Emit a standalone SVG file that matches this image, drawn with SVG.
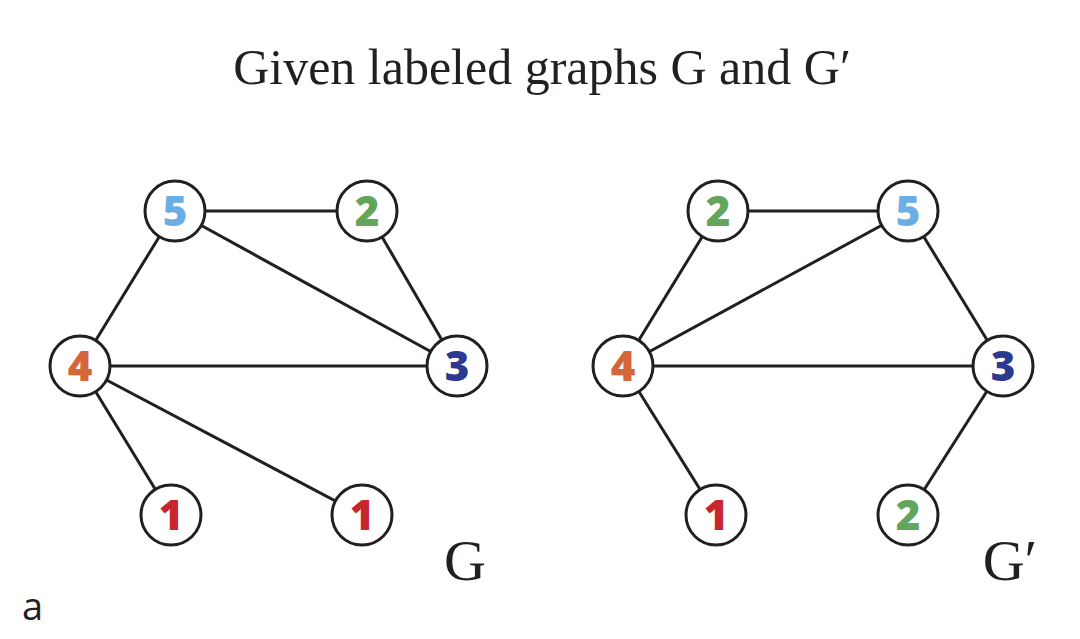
<svg xmlns="http://www.w3.org/2000/svg" width="1080" height="639" viewBox="0 0 1080 639">
<style>
.n circle{fill:#fff;stroke:#231f20;stroke-width:3}
.n text{font-family:"Open Sans","Liberation Sans",sans-serif;font-weight:800;font-size:42px;text-anchor:middle}
.e line{stroke:#231f20;stroke-width:3}
.c5{fill:#6aaee6}.c2{fill:#62a55b}.c4{fill:#d4663a}.c3{fill:#2b3990}.c1{fill:#c8262e}
.t{font-family:"Liberation Serif",serif;fill:#231f20}
</style>
<rect width="1080" height="639" fill="#fff"/>
<text class="t" x="542" y="84" font-size="50" text-anchor="middle">Given labeled graphs G and G′</text>
<g class="e" id="connectors">
<line x1="175" y1="211" x2="367" y2="211"/><line x1="175" y1="211" x2="457" y2="366"/><line x1="367" y1="211" x2="457" y2="366"/>
<line x1="175" y1="211" x2="80" y2="366"/><line x1="80" y1="366" x2="457" y2="366"/><line x1="80" y1="366" x2="171" y2="515"/><line x1="80" y1="366" x2="362" y2="515"/>
<line x1="718" y1="211" x2="908" y2="211"/><line x1="718" y1="211" x2="623" y2="366"/><line x1="908" y1="211" x2="623" y2="366"/>
<line x1="908" y1="211" x2="1003" y2="366"/><line x1="623" y1="366" x2="1003" y2="366"/><line x1="623" y1="366" x2="716" y2="515"/><line x1="1003" y1="366" x2="908" y2="515"/>
</g>
<g class="n" id="g5"><circle cx="175" cy="211" r="30"/><text class="c5" x="175" y="226">5</text></g>
<g class="n" id="g2"><circle cx="367" cy="211" r="30"/><text class="c2" x="367" y="226">2</text></g>
<g class="n" id="g4"><circle cx="80" cy="366" r="30"/><text class="c4" x="80" y="381">4</text></g>
<g class="n" id="g3"><circle cx="457" cy="366" r="30"/><text class="c3" x="457" y="381">3</text></g>
<g class="n" id="g1a"><circle cx="171" cy="515" r="30"/><text class="c1" x="171" y="530">1</text></g>
<g class="n" id="g1b"><circle cx="362" cy="515" r="30"/><text class="c1" x="362" y="530">1</text></g>
<g class="n" id="h2"><circle cx="718" cy="211" r="30"/><text class="c2" x="718" y="226">2</text></g>
<g class="n" id="h5"><circle cx="908" cy="211" r="30"/><text class="c5" x="908" y="226">5</text></g>
<g class="n" id="h4"><circle cx="623" cy="366" r="30"/><text class="c4" x="623" y="381">4</text></g>
<g class="n" id="h3"><circle cx="1003" cy="366" r="30"/><text class="c3" x="1003" y="381">3</text></g>
<g class="n" id="h1"><circle cx="716" cy="515" r="30"/><text class="c1" x="716" y="530">1</text></g>
<g class="n" id="h2b"><circle cx="908" cy="515" r="30"/><text class="c2" x="908" y="530">2</text></g>
<text class="t" x="465" y="580" font-size="58" text-anchor="middle">G</text>
<text class="t" x="1010" y="580" font-size="58" text-anchor="middle">G′</text>
<text x="22" y="620" font-family="Open Sans,Liberation Sans,sans-serif" font-size="38" fill="#231f20">a</text>
</svg>
